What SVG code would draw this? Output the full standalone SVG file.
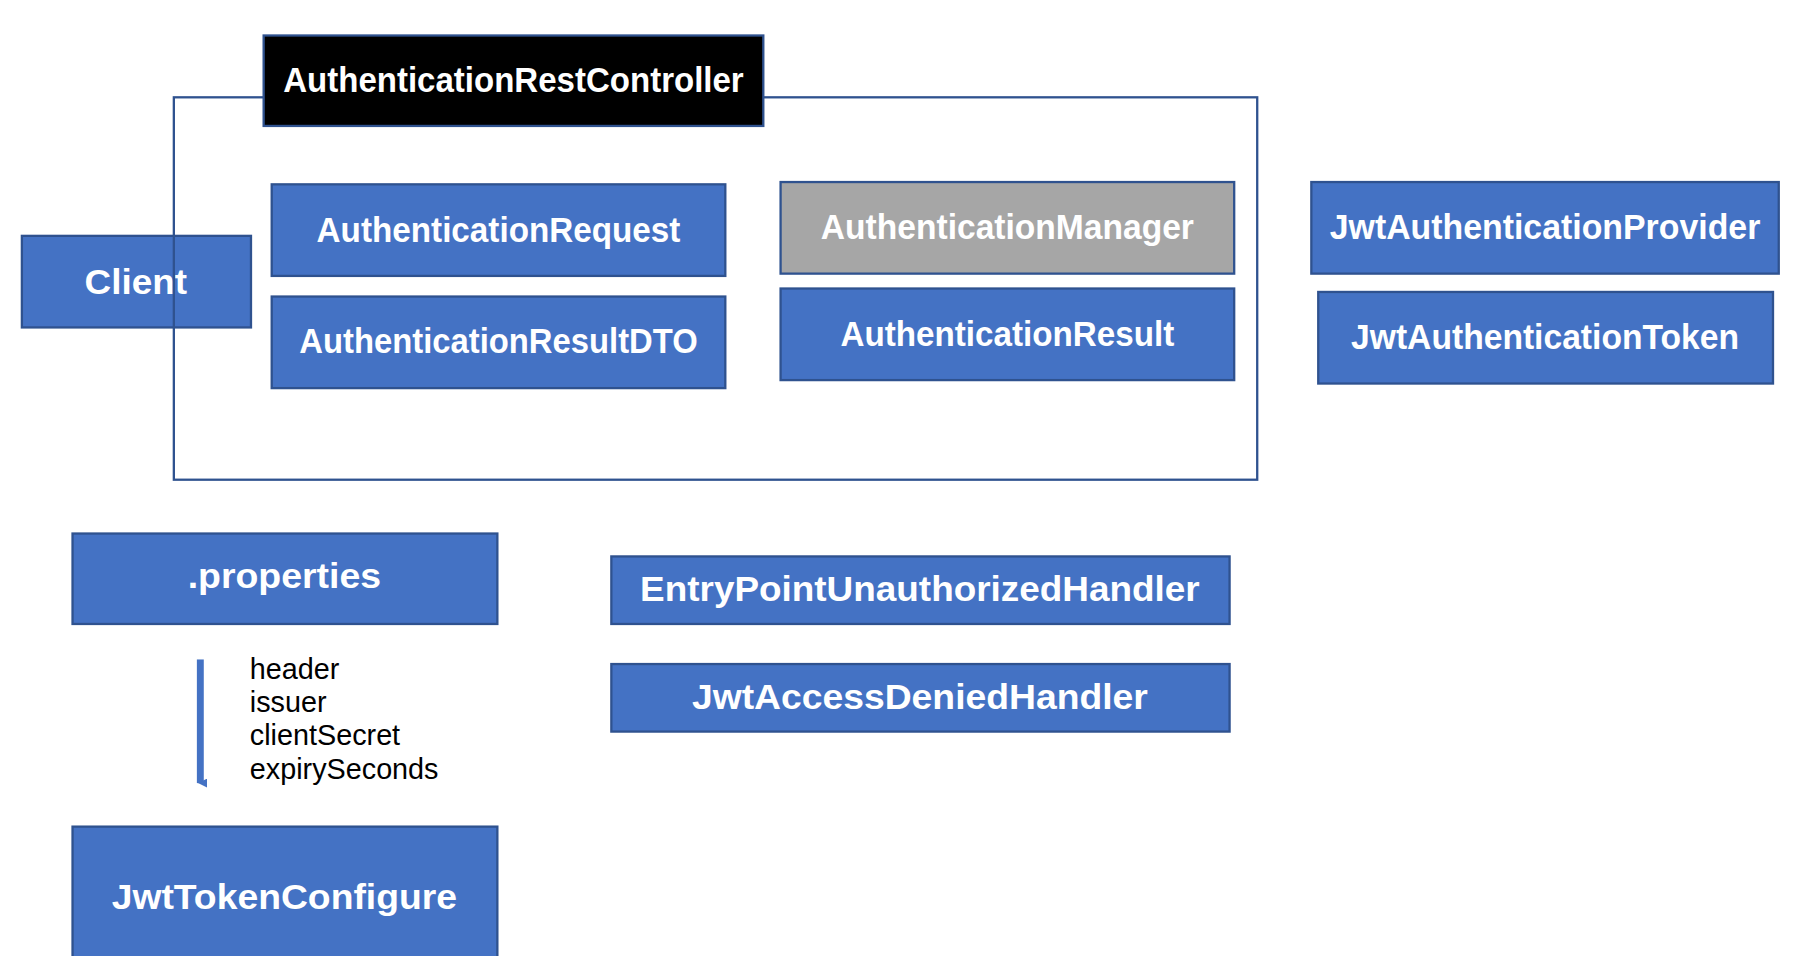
<svg xmlns="http://www.w3.org/2000/svg" width="1796" height="956" viewBox="0 0 1796 956">
<style>
.b{fill:#4472C4;stroke:#2F528F;stroke-width:2}
.t{fill:#fff;font-family:"Liberation Sans",Arial,sans-serif;font-weight:bold;font-size:30px;text-anchor:middle}
.l{fill:#000;font-family:"Liberation Sans",Arial,sans-serif;font-size:25px}
</style>
<defs><marker id="ah" markerWidth="8" markerHeight="8" refX="4" refY="6" orient="auto" markerUnits="userSpaceOnUse"><path d="M0,0 L8,0 L4,8 Z" fill="#4472C4"/></marker></defs>
<rect width="1796" height="956" fill="#fff"/>
<g transform="scale(1.1513 1.1449)">
<g id="client"><rect class="b" x="19" y="206" width="199" height="80"/><text class="t" x="118" y="257" font-size="32" textLength="89" lengthAdjust="spacingAndGlyphs">Client</text></g>
<g id="container"><rect x="151" y="85" width="941" height="334" fill="none" stroke="#2F528F" stroke-width="2"/></g>
<g id="arc"><rect x="229" y="31" width="434" height="79" fill="#000" stroke="#2F528F" stroke-width="2"/><text class="t" x="446" y="80" textLength="400" lengthAdjust="spacingAndGlyphs">AuthenticationRestController</text></g>
<g id="areq"><rect class="b" x="236" y="161" width="394" height="80"/><text class="t" x="433" y="211" textLength="316" lengthAdjust="spacingAndGlyphs">AuthenticationRequest</text></g>
<g id="adto"><rect class="b" x="236" y="259" width="394" height="80"/><text class="t" x="433" y="308" textLength="346" lengthAdjust="spacingAndGlyphs">AuthenticationResultDTO</text></g>
<g id="amgr"><rect x="678" y="159" width="394" height="80" fill="#A6A6A6" stroke="#2F528F" stroke-width="2"/><text class="t" x="875" y="209" textLength="324" lengthAdjust="spacingAndGlyphs">AuthenticationManager</text></g>
<g id="ares"><rect class="b" x="678" y="252" width="394" height="80"/><text class="t" x="875" y="302" textLength="290" lengthAdjust="spacingAndGlyphs">AuthenticationResult</text></g>
<g id="prov"><rect class="b" x="1139" y="159" width="406" height="80"/><text class="t" x="1342" y="209" textLength="374" lengthAdjust="spacingAndGlyphs">JwtAuthenticationProvider</text></g>
<g id="tok"><rect class="b" x="1145" y="255" width="395" height="80"/><text class="t" x="1342" y="305" textLength="337" lengthAdjust="spacingAndGlyphs">JwtAuthenticationToken</text></g>
<g id="props"><rect class="b" x="63" y="466" width="369" height="79"/><text class="t" x="247" y="514" textLength="168" lengthAdjust="spacingAndGlyphs">.properties</text></g>
<g id="entry"><rect class="b" x="531" y="486" width="537" height="59"/><text class="t" x="799" y="525" textLength="486" lengthAdjust="spacingAndGlyphs">EntryPointUnauthorizedHandler</text></g>
<g id="denied"><rect class="b" x="531" y="580" width="537" height="59"/><text class="t" x="799" y="619" textLength="396" lengthAdjust="spacingAndGlyphs">JwtAccessDeniedHandler</text></g>
<g id="jtc"><rect class="b" x="63" y="722" width="369" height="130"/><text class="t" x="247" y="794" textLength="300" lengthAdjust="spacingAndGlyphs">JwtTokenConfigure</text></g>
<g id="connectors"><line x1="174" y1="576" x2="174" y2="684" stroke="#4472C4" stroke-width="6" marker-end="url(#ah)"/></g>
<g id="fields"><text class="l" x="217" y="593">header</text><text class="l" x="217" y="622">issuer</text><text class="l" x="217" y="651">clientSecret</text><text class="l" x="217" y="680">expirySeconds</text></g>
</g>
</svg>
